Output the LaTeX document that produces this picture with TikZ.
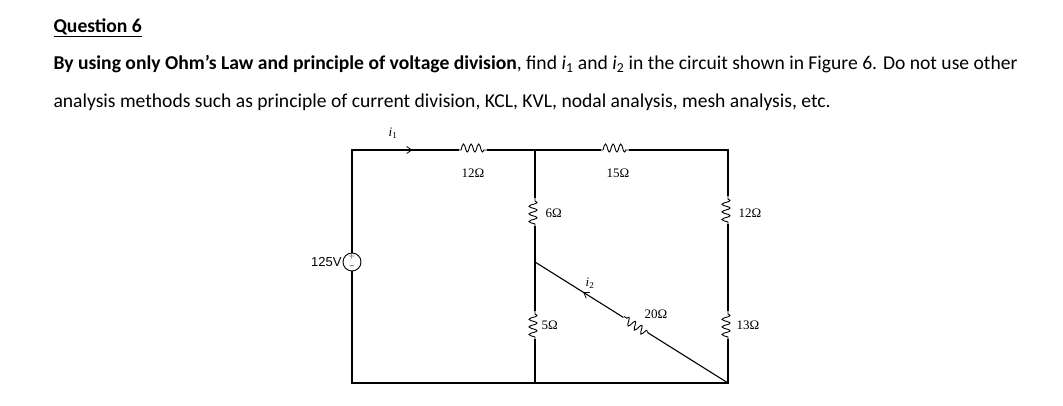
\documentclass[tikz,border=0pt]{standalone}
\usepackage{fontspec}
\setmainfont{Carlito}
\newfontfamily\ser{Liberation Serif}
\newfontfamily\san{Liberation Sans}
\usetikzlibrary{arrows.meta,decorations.markings}
\begin{document}
\begin{tikzpicture}[x=1pt,y=1pt,line width=1.1pt,
 lbl/.style={font=\ser\fontsize{13}{13}\selectfont,inner sep=0pt},
 resistor/.pic={\fill[white] (-14,-4) rectangle (14,8);
   \draw[line width=0.9pt] (-14,0) -- (-12,0) sin (-9.5,6) cos (-7,0) sin (-5.7,-2) cos (-4.4,0) sin (-1.9,6) cos (0.6,0) sin (1.9,-2) cos (3.2,0) sin (5.7,6) cos (8.2,0) sin (9.5,-2) cos (10.8,0) -- (14,0);},
 midarrow/.style={postaction={decorate},decoration={markings,mark=at position #1 with {\arrow[line width=0.8pt]{Straight Barb[length=5pt,width=7pt]}}}}]
\useasboundingbox (0,0) rectangle (1063,406);
\node[anchor=west,inner sep=0pt,font=\bfseries\fontsize{19.6}{20}\selectfont] (q) at (53,378) {\underline{Question 6}};
\node[anchor=west,inner sep=0pt,font=\fontsize{19.6}{20}\selectfont] (l1) at (53,342) {\textbf{By using only Ohm’s Law and principle of voltage division}, find \textit{i}\textsubscript{1} and \textit{i}\textsubscript{2} in the circuit shown in Figure 6. Do not use other};
\node[anchor=west,inner sep=0pt,font=\fontsize{19.6}{20}\selectfont] (l2) at (53,304) {analysis methods such as principle of current division, KCL, KVL, nodal analysis, mesh analysis, etc.};
% nodes
\coordinate (tl) at (352,256); \coordinate (tm) at (535,256); \coordinate (tr) at (728,256);
\coordinate (bl) at (352,23); \coordinate (bm) at (535,23); \coordinate (br) at (728,23);
\coordinate (mm) at (535,144);
\node[draw,circle,minimum size=18pt,inner sep=0pt,line width=0.9pt] (src) at (352,144) {};
\node[font=\sffamily\fontsize{8}{8}\selectfont,inner sep=0pt] at (352,149) {+};
\node[font=\sffamily\fontsize{8}{8}\selectfont,inner sep=0pt] at (352,138.5) {--};
\draw (src.north)--(tl)--(tm)--(tr)--(br)--(bl)--(src.south);
\draw (tm)--(bm);
\draw[midarrow=0.75] (br)--(mm);
\draw[midarrow=0.33] (tl)--(tm);
\pic at (473,256) {resistor};
\pic at (615,256) {resistor};
\pic[rotate=90] at (535,194) {resistor};
\pic[rotate=90] at (535,81) {resistor};
\pic[rotate=90] at (728,196) {resistor};
\pic[rotate=90] at (728,81) {resistor};
\pic[rotate=180-32.1] at (636,82) {resistor};
\node[font=\san\fontsize{13}{13}\selectfont,anchor=east,inner sep=0pt] at (342,144) {125V};
\node[lbl] at (473,233) {12Ω};
\node[lbl] at (618,233) {15Ω};
\node[lbl,anchor=west] at (545,193) {6Ω};
\node[lbl,anchor=west] at (738,193) {12Ω};
\node[lbl,anchor=west] at (541,81) {5Ω};
\node[lbl,anchor=west] at (736,81) {13Ω};
\node[lbl] at (656,92) {20Ω};
\node[lbl] at (393,273) {\textit{i}\textsubscript{1}};
\node[lbl] at (590,123) {\textit{i}\textsubscript{2}};
\end{tikzpicture}
\end{document}
